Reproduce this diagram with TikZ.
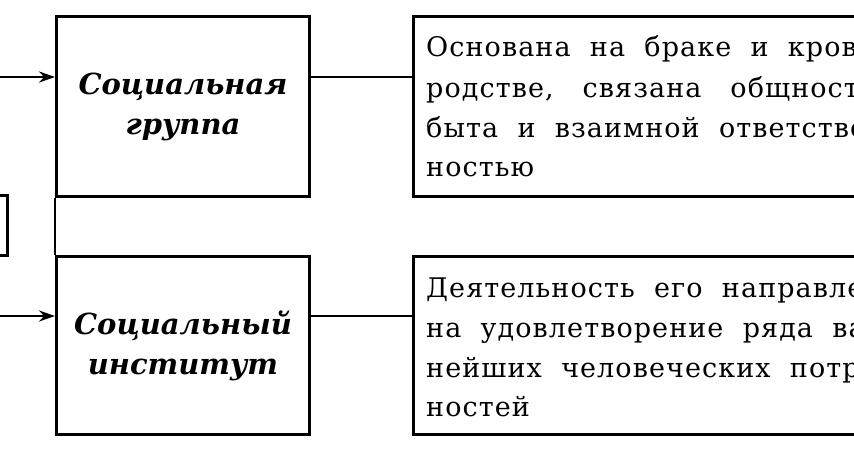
\documentclass[tikz,border=0pt]{standalone}
\usepackage{fontspec}
\setmainfont{DejaVu Serif}
\usetikzlibrary{arrows.meta}
\begin{document}
\begin{tikzpicture}[x=1pt,y=-1pt,
  box/.style={draw,line width=3pt},
  conn/.style={line width=2.6pt},
  arr/.style={line width=2.6pt,-{Stealth[length=16pt,width=11pt]}},
  lbl/.style={font=\fontsize{29}{40}\selectfont\bfseries\itshape,align=center},
  txt/.style={anchor=base west,inner sep=0,font=\fontsize{27}{32}\selectfont\addfontfeatures{LetterSpace=4}}]
\useasboundingbox (0,0) rectangle (854,448);
\clip (0,0) rectangle (854,448);
\fill[white] (0,0) rectangle (854,448);
\draw[box] (-20,195) rectangle (7,255);
\node[box,minimum width=253pt,minimum height=180pt,anchor=north west] (g) at (55,15) {};
\node[box,minimum width=253pt,minimum height=178pt,anchor=north west] (i) at (55,255) {};
\draw[conn] (g.south west) -- (i.north west);
\node[lbl] at (g.center) {Социальная\\группа};
\node[lbl] at (i.center) {Социальный\\институт};
\coordinate (s1) at (0,77);
\coordinate (s2) at (0,316);
\draw[arr] (s1) -- (s1 -| g.west);
\draw[arr] (s2) -- (s2 -| i.west);
\node[box,minimum width=480pt,minimum height=180pt,anchor=north west] (r1) at (412,15) {};
\node[box,minimum width=480pt,minimum height=178pt,anchor=north west] (r2) at (412,255) {};
\draw[conn] (g.east |- s1) -- (r1.west |- s1);
\draw[conn] (i.east |- s2) -- (r2.west |- s2);
\begin{scope}[every node/.style={txt}]
\node at (426,56) {Основана\ \ на\ \ браке\ \ и\ \ кровном};
\node at (426,97) {родстве,\ \ \ связана\ \ \ общностью};
\node at (426,137) {быта\ \ и\ \ взаимной\ \ ответствен-};
\node at (426,176) {ностью};
\node at (426,297) {Деятельность\ \ его\ \ направлена};
\node at (426,337) {на\ \ удовлетворение\ \ ряда\ \ важ-};
\node at (426,377) {нейших\ \ человеческих\ \ потреб-};
\node at (426,416) {ностей};
\end{scope}
\end{tikzpicture}
\end{document}
